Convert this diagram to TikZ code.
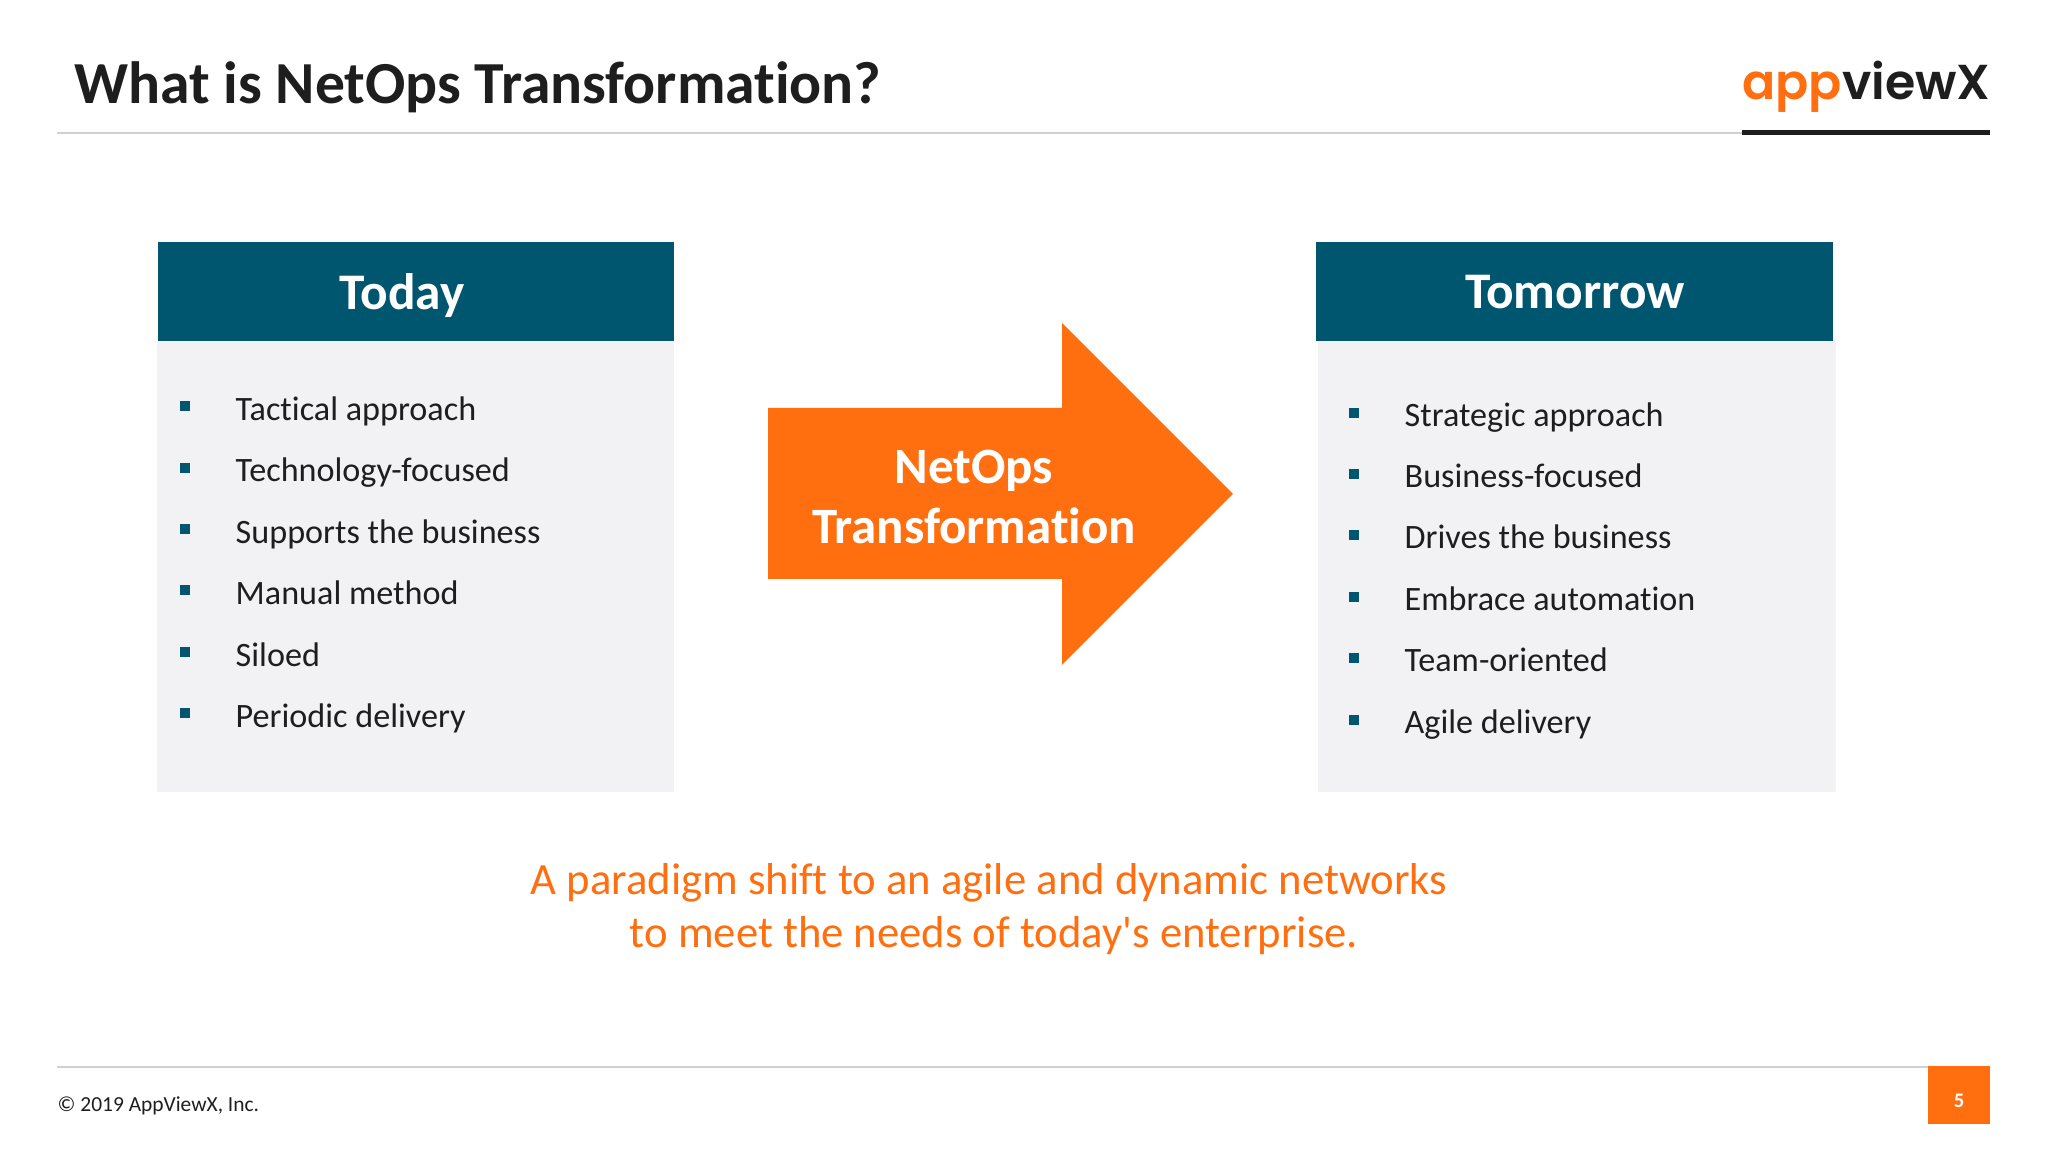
\documentclass[tikz,border=0pt]{standalone}
\usepackage{fontspec}
\setmainfont{Carlito}[Ligatures=NoCommon]
\newfontfamily\plainfont{Carlito}[Ligatures=NoCommon]
\newfontfamily\logofont{Poppins SemiBold}

\begin{document}
\begin{tikzpicture}
    \definecolor{netops_teal}{RGB}{0,86,110}
    \definecolor{netops_orange}{RGB}{255,111,16}
    \definecolor{netops_grey}{RGB}{242,242,244}
    \definecolor{netops_ink}{RGB}{30,30,30}
    \definecolor{netops_rule}{RGB}{208,208,208}
    \tikzset{
        greybox/.style={shape=rectangle,fill=netops_grey,minimum height=4.51cm,inner sep=0},
        headbox/.style={shape=rectangle,fill=netops_teal,minimum width=5.165cm,minimum height=0.99cm,inner sep=0},
        headtext/.style={text=white,font=\fontsize{14.6}{17}\selectfont\bfseries,inner sep=0},
        bulletbox/.style={shape=rectangle,fill=netops_teal,minimum size=0.105cm,inner sep=0},
        itemtext/.style={anchor=base west,text=netops_ink,font=\fontsize{9.72}{12}\selectfont,inner sep=0}
    }
    \useasboundingbox (0,0) rectangle (20.48,11.52);
    \fill[white] (0,0) rectangle (20.48,11.52);
    \node[anchor=base west,text=netops_ink,inner sep=0,font=\fontsize{16.97}{20}\selectfont\bfseries] (title) at (0.74,10.48) {What is NetOps Transformation?};
    \coordinate (ruleA) at (0.57,10.19);
    \coordinate (ruleB) at (17.42,10.19);
    \coordinate (ruleC) at (19.90,10.19);
    \draw[netops_rule,line width=0.02cm] (ruleA) to (ruleB);
    \draw[netops_ink,line width=0.05cm] (ruleB) to (ruleC);
    \node[anchor=base east,inner sep=0,font=\fontsize{13.95}{16}\selectfont\logofont] (logo) at (19.91,10.52) {\textcolor{netops_orange}{app}\textcolor{netops_ink}{viewX}};

    \node[greybox,minimum width=5.17cm] (todaybox) at (4.155,5.855) {};
    \node[headbox] (todayhead) at (4.16,8.605) {};
    \node[headtext] (todaylabel) at (4.02,8.56) {Today};
    \node[bulletbox] (bulletA) at (1.85,7.46) {};
    \node[bulletbox] (bulletB) at (1.85,6.84) {};
    \node[bulletbox] (bulletC) at (1.85,6.23) {};
    \node[bulletbox] (bulletD) at (1.85,5.62) {};
    \node[bulletbox] (bulletE) at (1.85,5.00) {};
    \node[bulletbox] (bulletF) at (1.85,4.39) {};
    \node[itemtext] (itemA) at (2.35,7.31) {Tactical approach};
    \node[itemtext] (itemB) at (2.35,6.70) {Technology-focused};
    \node[itemtext] (itemC) at (2.35,6.08) {Supports the business};
    \node[itemtext] (itemD) at (2.35,5.47) {Manual method};
    \node[itemtext] (itemE) at (2.35,4.85) {Siloed};
    \node[itemtext] (itemF) at (2.35,4.24) {Periodic delivery};

    \fill[netops_orange] (7.68,7.44) to (10.62,7.44) to (10.62,8.29) to (12.33,6.58) to (10.62,4.87) to (10.62,5.73) to (7.68,5.73) -- cycle;
    \node[align=center,text=white,inner sep=0,font=\fontsize{14.5}{17.3}\selectfont\bfseries] (shiftlabel) at (9.74,6.55) {NetOps\\Transformation};

    \node[greybox,minimum width=5.18cm] (tomorrowbox) at (15.77,5.855) {};
    \node[headbox] (tomorrowhead) at (15.745,8.605) {};
    \node[headtext] (tomorrowlabel) at (15.75,8.60) {Tomorrow};
    \node[bulletbox] (bulletG) at (13.54,7.39) {};
    \node[bulletbox] (bulletH) at (13.54,6.78) {};
    \node[bulletbox] (bulletI) at (13.54,6.17) {};
    \node[bulletbox] (bulletJ) at (13.54,5.55) {};
    \node[bulletbox] (bulletK) at (13.54,4.94) {};
    \node[bulletbox] (bulletL) at (13.54,4.32) {};
    \node[itemtext] (itemG) at (14.04,7.25) {Strategic approach};
    \node[itemtext] (itemH) at (14.04,6.64) {Business-focused};
    \node[itemtext] (itemI) at (14.04,6.03) {Drives the business};
    \node[itemtext] (itemJ) at (14.04,5.415) {Embrace automation};
    \node[itemtext] (itemK) at (14.04,4.805) {Team-oriented};
    \node[itemtext] (itemL) at (14.04,4.185) {Agile delivery};

    \node[align=center,text=netops_orange,inner sep=0,font=\fontsize{12.72}{15.2}\selectfont\plainfont] (closing) at (9.89,2.43) {A paradigm shift to an agile and dynamic networks\\\hspace*{0.1cm}to meet the needs of today's enterprise.};

    \coordinate (footA) at (0.57,0.85);
    \coordinate (footB) at (19.28,0.85);
    \draw[netops_rule,line width=0.02cm] (footA) to (footB);
    \node[anchor=base west,text=netops_ink,inner sep=0,font=\fontsize{6.1}{7}\selectfont] (copyright) at (0.57,0.40) {© 2019 AppViewX, Inc.};
    \node[shape=rectangle,fill=netops_orange,minimum width=0.62cm,minimum height=0.58cm,inner sep=0] (pagebox) at (19.59,0.57) {};
    \node[text=white,inner sep=0,font=\fontsize{5.9}{7}\selectfont\bfseries] (pagenum) at (19.59,0.51) {5};
\end{tikzpicture}
\end{document}
